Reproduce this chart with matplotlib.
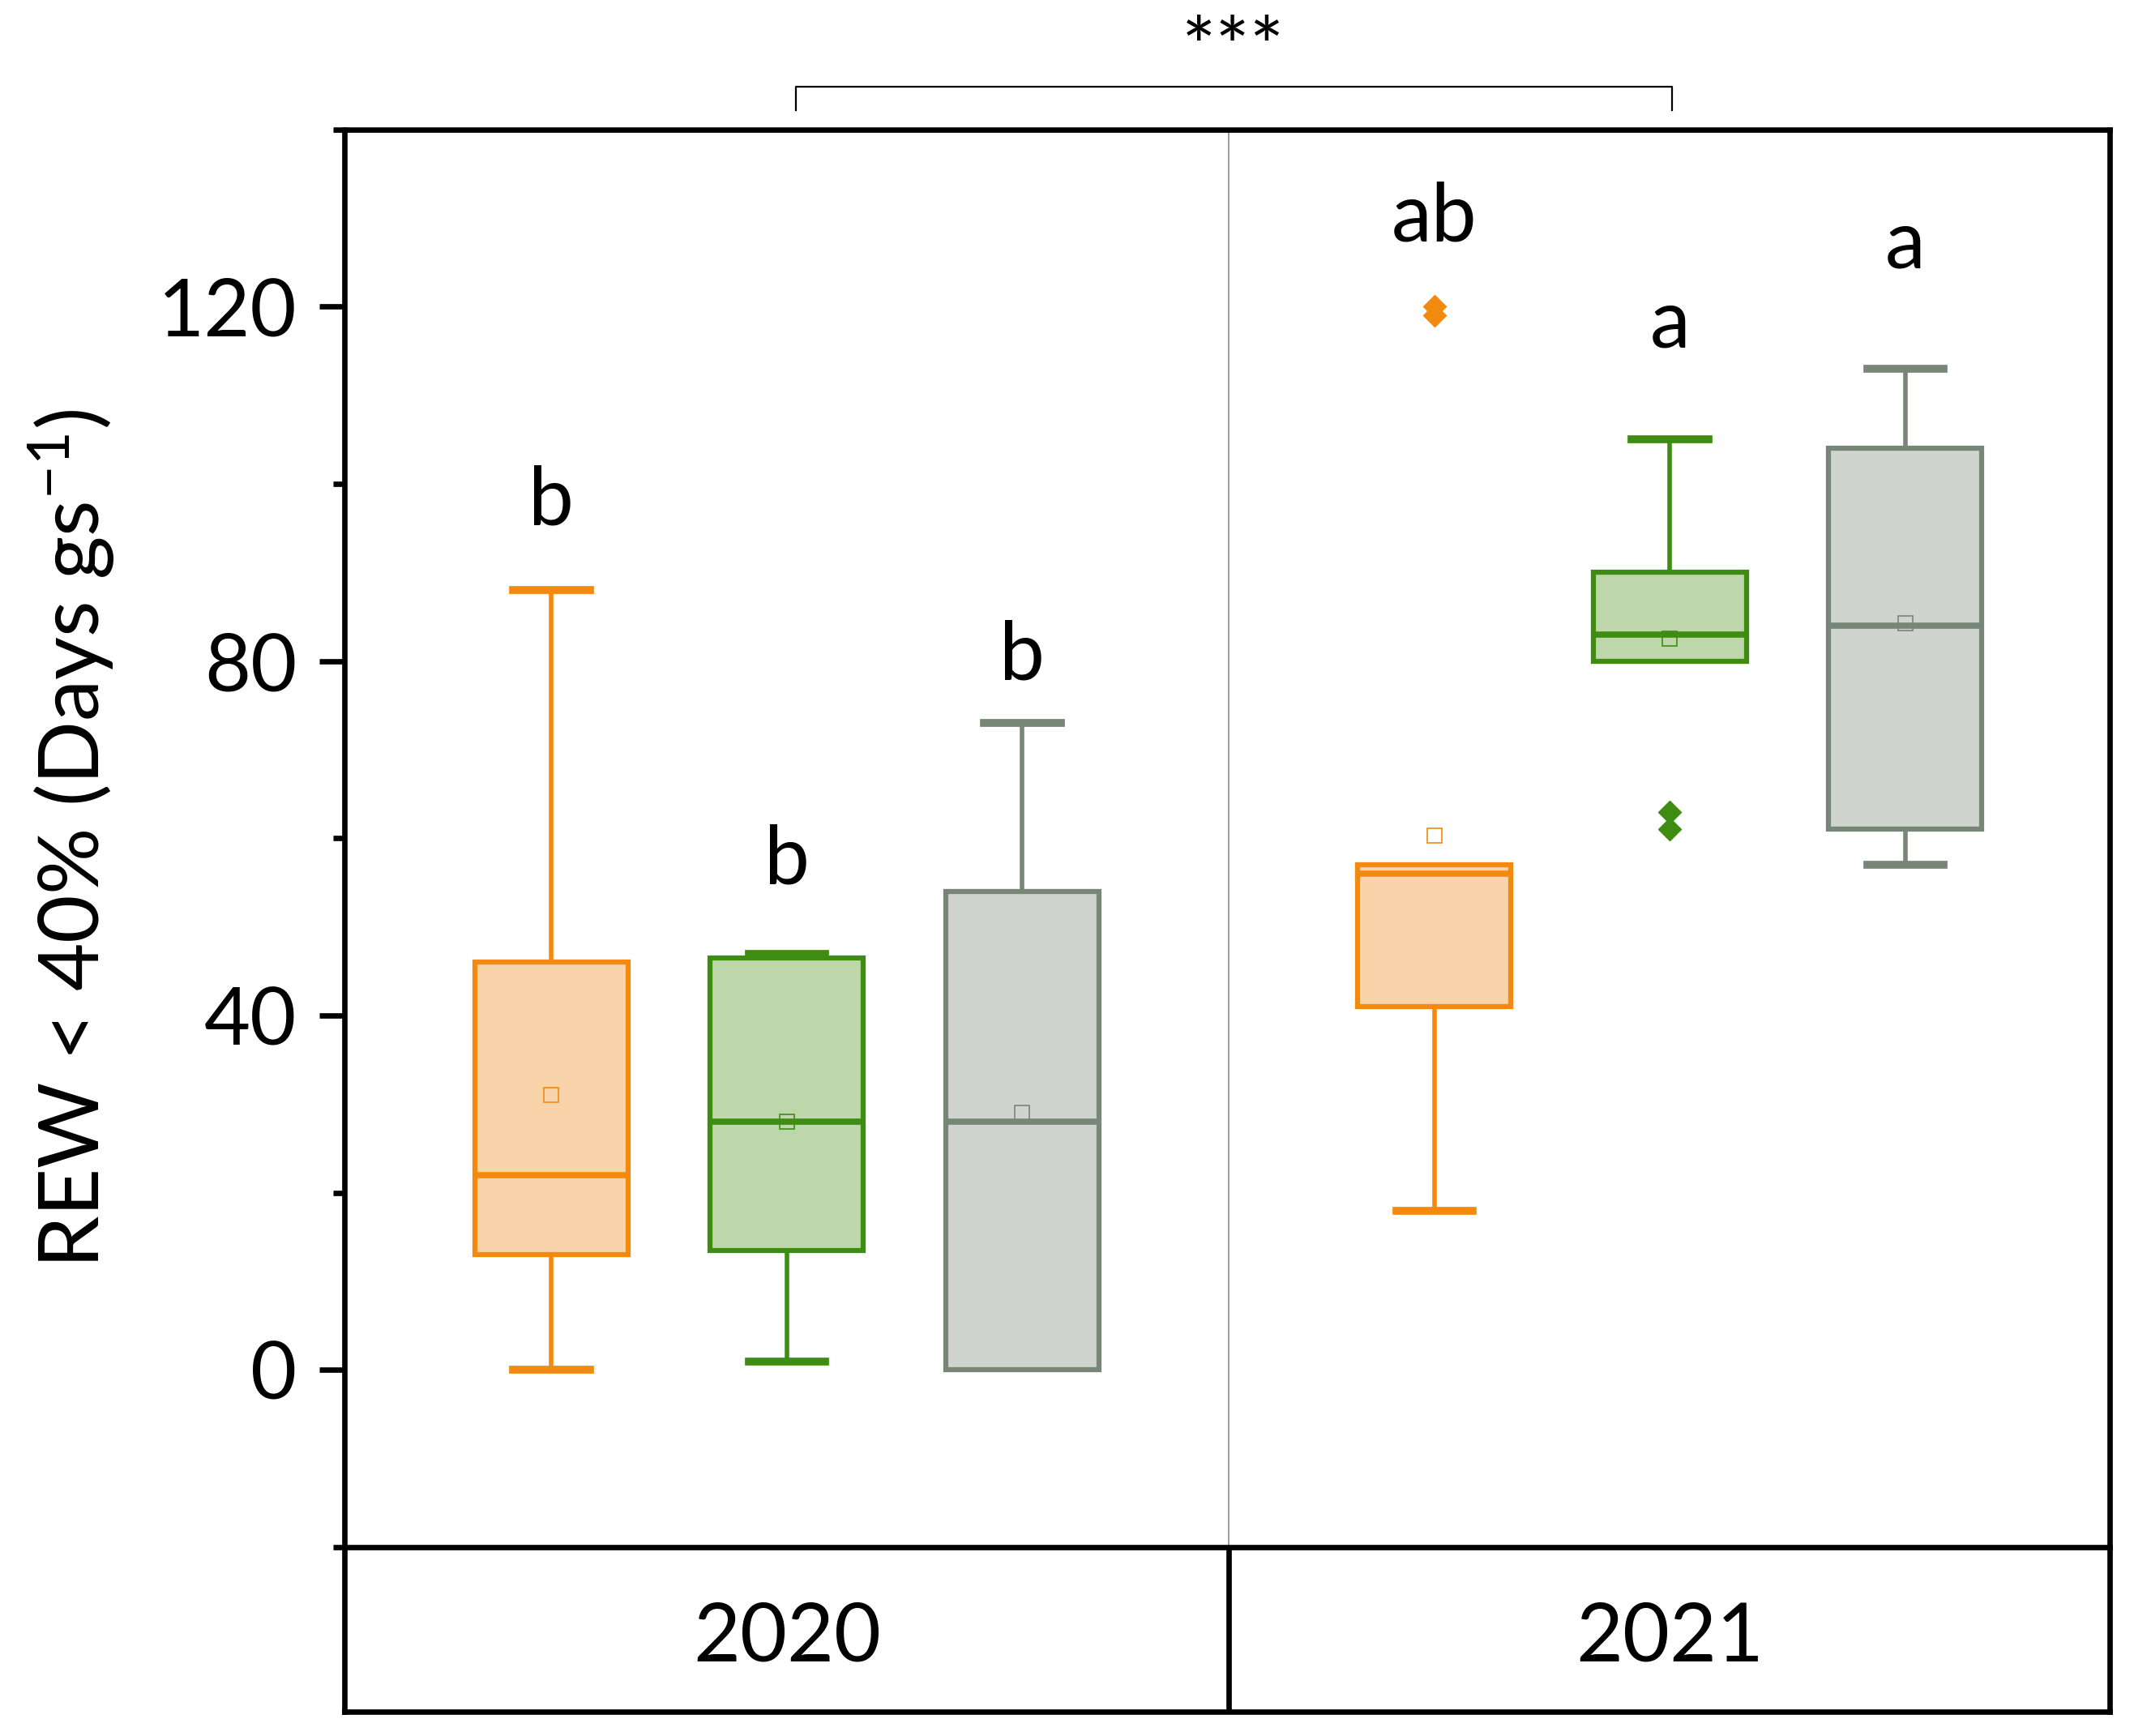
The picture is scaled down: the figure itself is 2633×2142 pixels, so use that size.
import matplotlib
matplotlib.use("Agg")
import matplotlib.pyplot as plt

plt.rcParams['font.family'] = ['Lato', 'DejaVu Sans']
plt.rcParams['mathtext.fontset'] = 'custom'
plt.rcParams['mathtext.rm'] = 'Lato'
plt.rcParams['mathtext.default'] = 'regular'

# data
years = ["2020", "2021"]
groups = ["2020-1", "2020-2", "2020-3", "2021-1", "2021-2", "2021-3"]
whislo = [0, 1, 0, 18, 80, 57]
q1 = [13, 13.5, 0, 41, 80, 61]
med = [22, 28, 28, 56, 83, 84]
q3 = [46, 46.5, 54, 57, 90, 104]
whishi = [88, 47, 73, 57, 105, 113]
means = [31, 28, 29, 60.3, 82.5, 84.3]
fliers = [[], [], [], [119, 120], [61, 63], []]
letters = ["b", "b", "b", "ab", "a", "a"]
letter_y = [98, 57.5, 80.5, 130, 118, 127]

positions = [1, 2, 3, 4.75, 5.75, 6.75]
year_centers = [2, 5.75]
bracket_x = [2.04, 5.76]
divider = 3.875

edge_cols = ['#F28A0F', '#3E8C12', '#788677'] * 2
fill_cols = ['#F9D3A9', '#BDD6AA', '#CFD4CF'] * 2

fig = plt.figure(figsize=(26.33, 21.42), dpi=100)
ax = fig.add_axes([0.1614, 0.1087, 0.8271, 0.8168])
ax2 = fig.add_axes([0.1614, 0.0138, 0.8271, 0.0949])

stats = []
for i in range(len(groups)):
    stats.append(dict(whislo=whislo[i], q1=q1[i], med=med[i], q3=q3[i],
                      whishi=whishi[i], mean=means[i], fliers=fliers[i], label=groups[i]))

bp = ax.bxp(stats, positions=positions, widths=0.65, patch_artist=True,
            showmeans=True, showfliers=True, manage_ticks=False)

for i in range(len(groups)):
    ec = edge_cols[i]
    box = bp['boxes'][i]
    box.set_facecolor(fill_cols[i])
    box.set_edgecolor(ec)
    box.set_linewidth(4.5)
    bp['medians'][i].set_color(ec)
    bp['medians'][i].set_linewidth(5.5)
    for w in bp['whiskers'][2 * i:2 * i + 2]:
        w.set_color(ec)
        w.set_linewidth(4)
    lo_cap, hi_cap = bp['caps'][2 * i], bp['caps'][2 * i + 1]
    for c in (lo_cap, hi_cap):
        c.set_color(ec)
        c.set_linewidth(7)
    if whislo[i] == q1[i]:
        lo_cap.set_visible(False)
    if whishi[i] == q3[i]:
        hi_cap.set_visible(False)
    m = bp['means'][i]
    m.set_marker('s')
    m.set_markerfacecolor('none')
    m.set_markeredgecolor(ec)
    m.set_markeredgewidth(1.2)
    m.set_markersize(13)
    f = bp['fliers'][i]
    f.set_marker('D')
    f.set_markerfacecolor(ec)
    f.set_markeredgecolor(ec)
    f.set_markersize(14)

for i in range(len(groups)):
    ax.text(positions[i], letter_y[i], letters[i], ha='center', va='center', fontsize=72)

ax.axvline(divider, color='#8c8c8c', linewidth=1.2, zorder=0)

ax.set_xlim(0.121, 7.617)
ax.set_ylim(-20, 140)
ax.set_xticks([])
ax.set_yticks([0, 40, 80, 120])
ax.set_yticks([-20, 20, 60, 100, 140], minor=True)
ax.tick_params(axis='y', which='major', length=22, width=4.8, labelsize=71, pad=20)
ax.tick_params(axis='y', which='minor', length=10, width=4.8)
for s in ax.spines.values():
    s.set_linewidth(4.8)
ax.set_ylabel("REW < 40% (Days gs$^{-1}$)", fontsize=74)
ax.yaxis.set_label_coords(-0.129, 0.5)

# significance bracket
ax.plot([bracket_x[0], bracket_x[0], bracket_x[1], bracket_x[1]],
        [142.2, 144.8, 144.8, 142.2], color='black', linewidth=1.6, clip_on=False)
ax.text(divider + 0.02, 148.6, "***", ha='center', va='center', fontsize=72)

# year panel
ax2.set_xlim(ax.get_xlim())
ax2.set_ylim(0, 1)
ax2.set_xticks([])
ax2.set_yticks([])
ax2.patch.set_visible(False)
ax2.axvline(divider, color='black', linewidth=4.8)
for s in ax2.spines.values():
    s.set_linewidth(4.8)
ax2.spines['top'].set_visible(False)
for xc, yr in zip(year_centers, years):
    ax2.text(xc, 0.45, yr, ha='center', va='center', fontsize=72)

fig.savefig("out.png", dpi=100, facecolor='white')
